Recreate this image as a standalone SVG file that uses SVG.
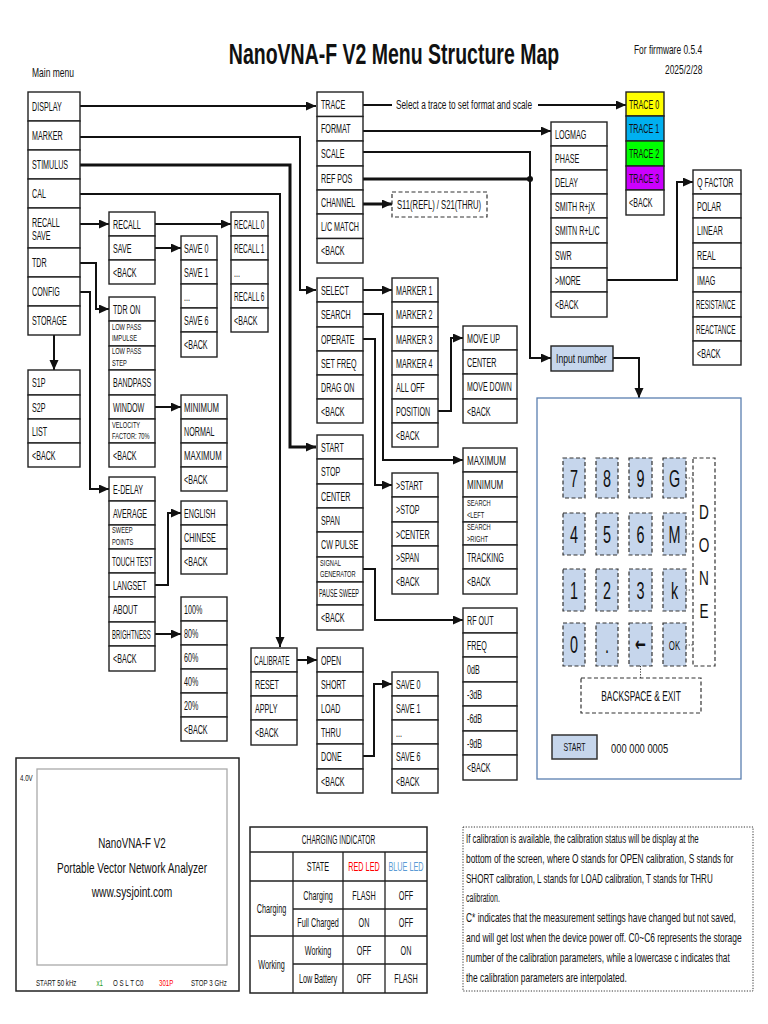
<svg xmlns="http://www.w3.org/2000/svg" width="768" height="1024" viewBox="0 0 768 1024">
<style>
.bg{fill:#fff}
.b{fill:#fff;stroke:#222;stroke-width:1.4}
.t{font-family:"Liberation Sans",Arial,sans-serif;font-size:13px;fill:#111}
.sm{font-size:9.5px}
.ps{font-size:10.5px}
.c{fill:none;stroke:#111;stroke-width:2}
.ck{stroke-width:3}
.dash{fill:none;stroke:#333;stroke-width:1.2;stroke-dasharray:4 2.5}
.key{fill:#C6D6EC;stroke:#333;stroke-width:1.2;stroke-dasharray:4 2.5}
.dot{fill:none;stroke:#333;stroke-width:1;stroke-dasharray:1.2 1.5}
.ln{stroke:#222;stroke-width:1.3;fill:none}
</style>
<defs>
<marker id="ah" markerUnits="userSpaceOnUse" markerWidth="10" markerHeight="10" refX="10" refY="4.5" orient="auto"><path d="M0,0 L10,4.5 L0,9 Z" fill="#111"/></marker>
</defs>
<rect class="bg" x="0" y="0" width="768" height="1024"/>

<g id="title">
<text class="t" style="font-size:30px;font-weight:bold" transform="translate(394 64) scale(.65 1)" text-anchor="middle">NanoVNA-F V2 Menu Structure Map</text>
<text class="t" style="font-size:12px" transform="translate(634 54) scale(.7 1)">For firmware 0.5.4</text>
<text class="t" style="font-size:12px" transform="translate(665 74) scale(.7 1)">2025/2/28</text>
<text class="t" style="font-size:12.5px" transform="translate(32 77) scale(.68 1)">Main menu</text>
</g>

<g id="connectors" class="c">
<path d="M80 106 H316" marker-end="url(#ah)"/>
<path d="M80 137 H300 V290 H316" marker-end="url(#ah)"/>
<path class="ck" d="M80 165 H290 V447 H316" marker-end="url(#ah)"/>
<path d="M80 194 H280 V647" marker-end="url(#ah)"/>
<path d="M80 224 H109" marker-end="url(#ah)"/>
<path d="M155 224 H231" marker-end="url(#ah)"/>
<path d="M155 248 H181" marker-end="url(#ah)"/>
<path d="M80 263 H96 V309 H109" marker-end="url(#ah)"/>
<path d="M80 292 H90 V489 H109" marker-end="url(#ah)"/>
<path d="M54 335 V370" marker-end="url(#ah)"/>
<path d="M155 407 H181" marker-end="url(#ah)"/>
<path d="M155 585 H168 V513 H181" marker-end="url(#ah)"/>
<path d="M155 634 H181" marker-end="url(#ah)"/>
<path d="M363 105 H392"/>
<path d="M538 105 H626" marker-end="url(#ah)"/>
<path d="M363 131 H551" marker-end="url(#ah)"/>
<path d="M363 152 H530 V358 H551" marker-end="url(#ah)"/>
<path class="ck" d="M363 179 H530"/>
<circle cx="530" cy="179" r="3" fill="#111" stroke="none"/>
<path class="ck" d="M363 204 H392" marker-end="url(#ah)"/>
<path d="M607 280 H677 V182 H693" marker-end="url(#ah)"/>
<path d="M613 358 H639 V398" marker-end="url(#ah)"/>
<path d="M363 290 H392" marker-end="url(#ah)"/>
<path d="M363 314 H383 V460 H463" marker-end="url(#ah)"/>
<path d="M363 339 H375 V485 H392" marker-end="url(#ah)"/>
<path d="M438 411 H451 V338 H463" marker-end="url(#ah)"/>
<path d="M363 569 H375 V620 H463" marker-end="url(#ah)"/>
<path d="M297 660 H317" marker-end="url(#ah)"/>
<path d="M363 756 H374 V684 H392" marker-end="url(#ah)"/>
</g>

<g id="main-menu">
<rect class="b" x="28" y="92" width="52" height="29"/>
<rect class="b" x="28" y="121" width="52" height="29"/>
<rect class="b" x="28" y="150" width="52" height="29"/>
<rect class="b" x="28" y="179" width="52" height="29"/>
<rect class="b" x="28" y="208" width="52" height="40"/>
<rect class="b" x="28" y="248" width="52" height="29"/>
<rect class="b" x="28" y="277" width="52" height="29"/>
<rect class="b" x="28" y="306" width="52" height="29"/>
<text class="t" transform="translate(32 111) scale(.55 1)">DISPLAY</text>
<text class="t" transform="translate(32 140) scale(.55 1)">MARKER</text>
<text class="t" transform="translate(32 169) scale(.55 1)">STIMULUS</text>
<text class="t" transform="translate(32 198) scale(.55 1)">CAL</text>
<text class="t" transform="translate(32 226.5) scale(.55 1)">RECALL</text>
<text class="t" transform="translate(32 239.5) scale(.55 1)">SAVE</text>
<text class="t" transform="translate(32 267) scale(.55 1)">TDR</text>
<text class="t" transform="translate(32 296) scale(.55 1)">CONFIG</text>
<text class="t" transform="translate(32 325) scale(.55 1)">STORAGE</text>
</g>

<g id="recall-save">
<rect class="b" x="109" y="212" width="46" height="24"/>
<rect class="b" x="109" y="236" width="46" height="24"/>
<rect class="b" x="109" y="260" width="46" height="24"/>
<text class="t" transform="translate(113 228.5) scale(.55 1)">RECALL</text>
<text class="t" transform="translate(113 252.5) scale(.55 1)">SAVE</text>
<text class="t" transform="translate(113 276.5) scale(.55 1)">&lt;BACK</text>
</g>

<g id="recall-list">
<rect class="b" x="231" y="212" width="37" height="24"/>
<rect class="b" x="231" y="236" width="37" height="24"/>
<rect class="b" x="231" y="260" width="37" height="24"/>
<rect class="b" x="231" y="284" width="37" height="24"/>
<rect class="b" x="231" y="308" width="37" height="24"/>
<text class="t" transform="translate(234 228.5) scale(.5 1)">RECALL 0</text>
<text class="t" transform="translate(234 252.5) scale(.5 1)">RECALL 1</text>
<text class="t" transform="translate(234 276.5) scale(.55 1)">...</text>
<text class="t" transform="translate(234 300.5) scale(.5 1)">RECALL 6</text>
<text class="t" transform="translate(234 324.5) scale(.55 1)">&lt;BACK</text>
</g>

<g id="save-list">
<rect class="b" x="181" y="236" width="36" height="24"/>
<rect class="b" x="181" y="260" width="36" height="24"/>
<rect class="b" x="181" y="284" width="36" height="24"/>
<rect class="b" x="181" y="308" width="36" height="24"/>
<rect class="b" x="181" y="332" width="36" height="25"/>
<text class="t" transform="translate(184 252.5) scale(.55 1)">SAVE 0</text>
<text class="t" transform="translate(184 276.5) scale(.55 1)">SAVE 1</text>
<text class="t" transform="translate(184 300.5) scale(.55 1)">...</text>
<text class="t" transform="translate(184 324.5) scale(.55 1)">SAVE 6</text>
<text class="t" transform="translate(184 349) scale(.55 1)">&lt;BACK</text>
</g>

<g id="storage">
<rect class="b" x="28" y="370" width="52" height="25"/>
<rect class="b" x="28" y="395" width="52" height="24"/>
<rect class="b" x="28" y="419" width="52" height="24"/>
<rect class="b" x="28" y="443" width="52" height="24"/>
<text class="t" transform="translate(32 387) scale(.55 1)">S1P</text>
<text class="t" transform="translate(32 411.5) scale(.55 1)">S2P</text>
<text class="t" transform="translate(32 435.5) scale(.55 1)">LIST</text>
<text class="t" transform="translate(32 459.5) scale(.55 1)">&lt;BACK</text>
</g>

<g id="tdr">
<rect class="b" x="109" y="297" width="46" height="24"/>
<rect class="b" x="109" y="321" width="46" height="25"/>
<rect class="b" x="109" y="346" width="46" height="24"/>
<rect class="b" x="109" y="370" width="46" height="25"/>
<rect class="b" x="109" y="395" width="46" height="24"/>
<rect class="b" x="109" y="419" width="46" height="24"/>
<rect class="b" x="109" y="443" width="46" height="24"/>
<text class="t" transform="translate(113 313.5) scale(.55 1)">TDR ON</text>
<text class="t sm" transform="translate(112 329.5) scale(.6 1)">LOW PASS</text>
<text class="t sm" transform="translate(112 341) scale(.6 1)">IMPULSE</text>
<text class="t sm" transform="translate(112 354) scale(.6 1)">LOW PASS</text>
<text class="t sm" transform="translate(112 365.5) scale(.6 1)">STEP</text>
<text class="t" transform="translate(113 387) scale(.55 1)">BANDPASS</text>
<text class="t" transform="translate(113 411.5) scale(.55 1)">WINDOW</text>
<text class="t sm" transform="translate(112 427.5) scale(.6 1)">VELOCITY</text>
<text class="t sm" transform="translate(112 439) scale(.6 1)">FACTOR: 70%</text>
<text class="t" transform="translate(113 459.5) scale(.55 1)">&lt;BACK</text>
</g>

<g id="window">
<rect class="b" x="181" y="395" width="46" height="24"/>
<rect class="b" x="181" y="419" width="46" height="24"/>
<rect class="b" x="181" y="443" width="46" height="24"/>
<rect class="b" x="181" y="467" width="46" height="24"/>
<text class="t" transform="translate(184 411.5) scale(.6 1)">MINIMUM</text>
<text class="t" transform="translate(184 435.5) scale(.55 1)">NORMAL</text>
<text class="t" transform="translate(184 459.5) scale(.6 1)">MAXIMUM</text>
<text class="t" transform="translate(184 483.5) scale(.55 1)">&lt;BACK</text>
</g>

<g id="config">
<rect class="b" x="109" y="477" width="46" height="24"/>
<rect class="b" x="109" y="501" width="46" height="24"/>
<rect class="b" x="109" y="525" width="46" height="24"/>
<rect class="b" x="109" y="549" width="46" height="24"/>
<rect class="b" x="109" y="573" width="46" height="24"/>
<rect class="b" x="109" y="597" width="46" height="25"/>
<rect class="b" x="109" y="622" width="46" height="24"/>
<rect class="b" x="109" y="646" width="46" height="25"/>
<text class="t" transform="translate(113 493.5) scale(.55 1)">E-DELAY</text>
<text class="t" transform="translate(113 517.5) scale(.55 1)">AVERAGE</text>
<text class="t sm" transform="translate(112 533) scale(.6 1)">SWEEP</text>
<text class="t sm" transform="translate(112 544.5) scale(.6 1)">POINTS</text>
<text class="t" transform="translate(112 565.5) scale(.49 1)">TOUCH TEST</text>
<text class="t" transform="translate(113 589.5) scale(.55 1)">LANGSET</text>
<text class="t" transform="translate(113 614) scale(.55 1)">ABOUT</text>
<text class="t" transform="translate(112 638.5) scale(.46 1)">BRIGHTNESS</text>
<text class="t" transform="translate(113 663) scale(.55 1)">&lt;BACK</text>
</g>

<g id="langset">
<rect class="b" x="181" y="501" width="46" height="24"/>
<rect class="b" x="181" y="525" width="46" height="24"/>
<rect class="b" x="181" y="549" width="46" height="25"/>
<text class="t" transform="translate(184 517.5) scale(.55 1)">ENGLISH</text>
<text class="t" transform="translate(184 541.5) scale(.55 1)">CHINESE</text>
<text class="t" transform="translate(184 566) scale(.55 1)">&lt;BACK</text>
</g>

<g id="brightness">
<rect class="b" x="181" y="597" width="46" height="24"/>
<rect class="b" x="181" y="621" width="46" height="24"/>
<rect class="b" x="181" y="645" width="46" height="24"/>
<rect class="b" x="181" y="669" width="46" height="24"/>
<rect class="b" x="181" y="693" width="46" height="24"/>
<rect class="b" x="181" y="717" width="46" height="24"/>
<text class="t" transform="translate(184 613.5) scale(.55 1)">100%</text>
<text class="t" transform="translate(184 637.5) scale(.55 1)">80%</text>
<text class="t" transform="translate(184 661.5) scale(.55 1)">60%</text>
<text class="t" transform="translate(184 685.5) scale(.55 1)">40%</text>
<text class="t" transform="translate(184 709.5) scale(.55 1)">20%</text>
<text class="t" transform="translate(184 733.5) scale(.55 1)">&lt;BACK</text>
</g>

<g id="display">
<rect class="b" x="317" y="92" width="46" height="24.5"/>
<rect class="b" x="317" y="116.5" width="46" height="24.5"/>
<rect class="b" x="317" y="141" width="46" height="25"/>
<rect class="b" x="317" y="166" width="46" height="24"/>
<rect class="b" x="317" y="190" width="46" height="24"/>
<rect class="b" x="317" y="214" width="46" height="24.5"/>
<rect class="b" x="317" y="238.5" width="46" height="24.5"/>
<text class="t" transform="translate(321 108.5) scale(.55 1)">TRACE</text>
<text class="t" transform="translate(321 133) scale(.55 1)">FORMAT</text>
<text class="t" transform="translate(321 158) scale(.55 1)">SCALE</text>
<text class="t" transform="translate(321 182.5) scale(.55 1)">REF POS</text>
<text class="t" transform="translate(321 206.5) scale(.55 1)">CHANNEL</text>
<text class="t" transform="translate(321 230.5) scale(.55 1)">L/C MATCH</text>
<text class="t" transform="translate(321 255) scale(.55 1)">&lt;BACK</text>
<text class="t" style="font-size:12.5px" transform="translate(396 109) scale(.66 1)">Select a trace to set format and scale</text>
</g>

<g id="traces">
<rect class="b" x="626" y="92" width="38" height="24" style="fill:#FFFF00"/>
<rect class="b" x="626" y="116" width="38" height="25" style="fill:#00B0F0"/>
<rect class="b" x="626" y="141" width="38" height="25" style="fill:#00FF00"/>
<rect class="b" x="626" y="166" width="38" height="24" style="fill:#CC00FF"/>
<rect class="b" x="626" y="190" width="38" height="25"/>
<text class="t" transform="translate(629 108.5) scale(.55 1)">TRACE 0</text>
<text class="t" transform="translate(629 133) scale(.55 1)">TRACE 1</text>
<text class="t" transform="translate(629 158) scale(.55 1)">TRACE 2</text>
<text class="t" transform="translate(629 182.5) scale(.55 1)">TRACE 3</text>
<text class="t" transform="translate(629 207) scale(.55 1)">&lt;BACK</text>
</g>

<g id="format">
<rect class="b" x="551" y="122" width="56" height="24"/>
<rect class="b" x="551" y="146" width="56" height="24"/>
<rect class="b" x="551" y="170" width="56" height="24"/>
<rect class="b" x="551" y="194" width="56" height="24"/>
<rect class="b" x="551" y="218" width="56" height="25"/>
<rect class="b" x="551" y="243" width="56" height="25"/>
<rect class="b" x="551" y="268" width="56" height="24"/>
<rect class="b" x="551" y="292" width="56" height="25"/>
<text class="t" transform="translate(555 138.5) scale(.55 1)">LOGMAG</text>
<text class="t" transform="translate(555 162.5) scale(.55 1)">PHASE</text>
<text class="t" transform="translate(555 186.5) scale(.55 1)">DELAY</text>
<text class="t" transform="translate(555 210.5) scale(.55 1)">SMITH R+jX</text>
<text class="t" transform="translate(555 235) scale(.55 1)">SMITN R+L/C</text>
<text class="t" transform="translate(555 260) scale(.55 1)">SWR</text>
<text class="t" transform="translate(555 284.5) scale(.55 1)">&gt;MORE</text>
<text class="t" transform="translate(555 309) scale(.55 1)">&lt;BACK</text>
</g>

<g id="more">
<rect class="b" x="693" y="170" width="48" height="24"/>
<rect class="b" x="693" y="194" width="48" height="24"/>
<rect class="b" x="693" y="218" width="48" height="25"/>
<rect class="b" x="693" y="243" width="48" height="25"/>
<rect class="b" x="693" y="268" width="48" height="24"/>
<rect class="b" x="693" y="292" width="48" height="25"/>
<rect class="b" x="693" y="317" width="48" height="24"/>
<rect class="b" x="693" y="341" width="48" height="24"/>
<text class="t" transform="translate(697 186.5) scale(.55 1)">Q FACTOR</text>
<text class="t" transform="translate(697 210.5) scale(.55 1)">POLAR</text>
<text class="t" transform="translate(697 235) scale(.55 1)">LINEAR</text>
<text class="t" transform="translate(697 260) scale(.55 1)">REAL</text>
<text class="t" transform="translate(697 284.5) scale(.55 1)">IMAG</text>
<text class="t" transform="translate(696 309) scale(.48 1)">RESISTANCE</text>
<text class="t" transform="translate(696 333.5) scale(.5 1)">REACTANCE</text>
<text class="t" transform="translate(697 357.5) scale(.55 1)">&lt;BACK</text>
</g>

<g id="input-number">
<rect x="551" y="346" width="62" height="25" fill="#C6D6EC" stroke="#222" stroke-width="1.4"/>
<text class="t" style="font-size:12.5px" transform="translate(556 363) scale(.69 1)">Input number</text>
</g>

<g id="channel-opt">
<rect class="dash" x="392" y="192" width="95" height="25"/>
<text class="t" transform="translate(397 209) scale(.59 1)">S11(REFL) / S21(THRU)</text>
</g>

<g id="marker">
<rect class="b" x="317" y="278" width="46" height="24"/>
<rect class="b" x="317" y="302" width="46" height="25"/>
<rect class="b" x="317" y="327" width="46" height="24"/>
<rect class="b" x="317" y="351" width="46" height="24"/>
<rect class="b" x="317" y="375" width="46" height="24"/>
<rect class="b" x="317" y="399" width="46" height="24"/>
<text class="t" transform="translate(321 294.5) scale(.55 1)">SELECT</text>
<text class="t" transform="translate(321 319) scale(.55 1)">SEARCH</text>
<text class="t" transform="translate(321 343.5) scale(.55 1)">OPERATE</text>
<text class="t" transform="translate(321 367.5) scale(.55 1)">SET FREQ</text>
<text class="t" transform="translate(321 391.5) scale(.55 1)">DRAG ON</text>
<text class="t" transform="translate(321 415.5) scale(.55 1)">&lt;BACK</text>
</g>

<g id="marker-select">
<rect class="b" x="392" y="278" width="46" height="24"/>
<rect class="b" x="392" y="302" width="46" height="25"/>
<rect class="b" x="392" y="327" width="46" height="24"/>
<rect class="b" x="392" y="351" width="46" height="24"/>
<rect class="b" x="392" y="375" width="46" height="24"/>
<rect class="b" x="392" y="399" width="46" height="24"/>
<rect class="b" x="392" y="423" width="46" height="24"/>
<text class="t" transform="translate(396 294.5) scale(.55 1)">MARKER 1</text>
<text class="t" transform="translate(396 319) scale(.55 1)">MARKER 2</text>
<text class="t" transform="translate(396 343.5) scale(.55 1)">MARKER 3</text>
<text class="t" transform="translate(396 367.5) scale(.55 1)">MARKER 4</text>
<text class="t" transform="translate(396 391.5) scale(.55 1)">ALL OFF</text>
<text class="t" transform="translate(396 415.5) scale(.55 1)">POSITION</text>
<text class="t" transform="translate(396 439.5) scale(.55 1)">&lt;BACK</text>
</g>

<g id="position">
<rect class="b" x="463" y="326" width="54" height="24"/>
<rect class="b" x="463" y="350" width="54" height="24"/>
<rect class="b" x="463" y="374" width="54" height="25"/>
<rect class="b" x="463" y="399" width="54" height="24"/>
<text class="t" transform="translate(467 342.5) scale(.55 1)">MOVE UP</text>
<text class="t" transform="translate(467 366.5) scale(.55 1)">CENTER</text>
<text class="t" transform="translate(467 391) scale(.54 1)">MOVE DOWN</text>
<text class="t" transform="translate(467 415.5) scale(.55 1)">&lt;BACK</text>
</g>

<g id="search">
<rect class="b" x="463" y="448" width="54" height="24"/>
<rect class="b" x="463" y="472" width="54" height="25"/>
<rect class="b" x="463" y="497" width="54" height="25"/>
<rect class="b" x="463" y="522" width="54" height="23"/>
<rect class="b" x="463" y="545" width="54" height="24"/>
<rect class="b" x="463" y="569" width="54" height="25"/>
<text class="t" transform="translate(467 464.5) scale(.62 1)">MAXIMUM</text>
<text class="t" transform="translate(467 489) scale(.62 1)">MINIMUM</text>
<text class="t sm" transform="translate(467 506) scale(.6 1)">SEARCH</text>
<text class="t sm" transform="translate(467 517.5) scale(.6 1)">&lt;LEFT</text>
<text class="t sm" transform="translate(467 530) scale(.6 1)">SEARCH</text>
<text class="t sm" transform="translate(467 541.5) scale(.6 1)">&gt;RIGHT</text>
<text class="t" transform="translate(467 561.5) scale(.55 1)">TRACKING</text>
<text class="t" transform="translate(467 586) scale(.55 1)">&lt;BACK</text>
</g>

<g id="operate">
<rect class="b" x="392" y="473" width="46" height="24"/>
<rect class="b" x="392" y="497" width="46" height="25"/>
<rect class="b" x="392" y="522" width="46" height="24"/>
<rect class="b" x="392" y="546" width="46" height="23"/>
<rect class="b" x="392" y="569" width="46" height="25"/>
<text class="t" transform="translate(396 489.5) scale(.55 1)">&gt;START</text>
<text class="t" transform="translate(396 514) scale(.55 1)">&gt;STOP</text>
<text class="t" transform="translate(396 538.5) scale(.55 1)">&gt;CENTER</text>
<text class="t" transform="translate(396 562) scale(.55 1)">&gt;SPAN</text>
<text class="t" transform="translate(396 586) scale(.55 1)">&lt;BACK</text>
</g>

<g id="stimulus">
<rect class="b" x="317" y="435" width="46" height="24"/>
<rect class="b" x="317" y="459" width="46" height="25"/>
<rect class="b" x="317" y="484" width="46" height="24"/>
<rect class="b" x="317" y="508" width="46" height="24"/>
<rect class="b" x="317" y="532" width="46" height="25"/>
<rect class="b" x="317" y="557" width="46" height="25"/>
<rect class="b" x="317" y="582" width="46" height="23"/>
<rect class="b" x="317" y="605" width="46" height="25"/>
<text class="t" transform="translate(321 451.5) scale(.55 1)">START</text>
<text class="t" transform="translate(321 476) scale(.55 1)">STOP</text>
<text class="t" transform="translate(321 500.5) scale(.55 1)">CENTER</text>
<text class="t" transform="translate(321 524.5) scale(.55 1)">SPAN</text>
<text class="t" transform="translate(321 549) scale(.55 1)">CW PULSE</text>
<text class="t sm" transform="translate(320 565.5) scale(.6 1)">SIGNAL</text>
<text class="t sm" transform="translate(320 577) scale(.6 1)">GENERATOR</text>
<text class="t ps" transform="translate(319 597) scale(.53 1)">PAUSE SWEEP</text>
<text class="t" transform="translate(321 622) scale(.55 1)">&lt;BACK</text>
</g>

<g id="signal-generator">
<rect class="b" x="463" y="608" width="54" height="25"/>
<rect class="b" x="463" y="633" width="54" height="24"/>
<rect class="b" x="463" y="657" width="54" height="25"/>
<rect class="b" x="463" y="682" width="54" height="24"/>
<rect class="b" x="463" y="706" width="54" height="25"/>
<rect class="b" x="463" y="731" width="54" height="24"/>
<rect class="b" x="463" y="755" width="54" height="25"/>
<text class="t" transform="translate(467 625) scale(.55 1)">RF OUT</text>
<text class="t" transform="translate(467 649.5) scale(.55 1)">FREQ</text>
<text class="t" transform="translate(467 674) scale(.55 1)">0dB</text>
<text class="t" transform="translate(467 698.5) scale(.55 1)">-3dB</text>
<text class="t" transform="translate(467 723) scale(.55 1)">-6dB</text>
<text class="t" transform="translate(467 747.5) scale(.55 1)">-9dB</text>
<text class="t" transform="translate(467 772) scale(.55 1)">&lt;BACK</text>
</g>

<g id="cal">
<rect class="b" x="251" y="648" width="46" height="24"/>
<rect class="b" x="251" y="672" width="46" height="24"/>
<rect class="b" x="251" y="696" width="46" height="24"/>
<rect class="b" x="251" y="720" width="46" height="25"/>
<text class="t" transform="translate(254 664.5) scale(.5 1)">CALIBRATE</text>
<text class="t" transform="translate(255 688.5) scale(.55 1)">RESET</text>
<text class="t" transform="translate(255 712.5) scale(.55 1)">APPLY</text>
<text class="t" transform="translate(255 737) scale(.55 1)">&lt;BACK</text>
</g>

<g id="calibrate">
<rect class="b" x="317" y="648" width="46" height="24"/>
<rect class="b" x="317" y="672" width="46" height="24"/>
<rect class="b" x="317" y="696" width="46" height="24"/>
<rect class="b" x="317" y="720" width="46" height="24"/>
<rect class="b" x="317" y="744" width="46" height="25"/>
<rect class="b" x="317" y="769" width="46" height="24"/>
<text class="t" transform="translate(321 664.5) scale(.55 1)">OPEN</text>
<text class="t" transform="translate(321 688.5) scale(.55 1)">SHORT</text>
<text class="t" transform="translate(321 712.5) scale(.55 1)">LOAD</text>
<text class="t" transform="translate(321 736.5) scale(.55 1)">THRU</text>
<text class="t" transform="translate(321 761) scale(.55 1)">DONE</text>
<text class="t" transform="translate(321 785.5) scale(.55 1)">&lt;BACK</text>
</g>

<g id="cal-save">
<rect class="b" x="392" y="672" width="46" height="24"/>
<rect class="b" x="392" y="696" width="46" height="24"/>
<rect class="b" x="392" y="720" width="46" height="24"/>
<rect class="b" x="392" y="744" width="46" height="25"/>
<rect class="b" x="392" y="769" width="46" height="24"/>
<text class="t" transform="translate(396 688.5) scale(.55 1)">SAVE 0</text>
<text class="t" transform="translate(396 712.5) scale(.55 1)">SAVE 1</text>
<text class="t" transform="translate(396 736.5) scale(.55 1)">...</text>
<text class="t" transform="translate(396 761) scale(.55 1)">SAVE 6</text>
<text class="t" transform="translate(396 785.5) scale(.55 1)">&lt;BACK</text>
</g>

<g id="keypad">
<rect x="537" y="398" width="204" height="381" fill="none" stroke="#5A7FB0" stroke-width="1.3"/>
<rect class="key" x="563" y="458" width="22" height="40"/>
<rect class="key" x="596" y="458" width="22" height="40"/>
<rect class="key" x="629" y="458" width="23" height="40"/>
<rect class="key" x="663" y="458" width="23" height="40"/>
<rect class="key" x="563" y="513" width="22" height="42"/>
<rect class="key" x="596" y="513" width="22" height="42"/>
<rect class="key" x="629" y="513" width="23" height="42"/>
<rect class="key" x="663" y="513" width="23" height="42"/>
<rect class="key" x="563" y="569" width="22" height="42"/>
<rect class="key" x="596" y="569" width="22" height="42"/>
<rect class="key" x="629" y="569" width="23" height="42"/>
<rect class="key" x="663" y="569" width="23" height="42"/>
<rect class="key" x="563" y="623" width="22" height="43"/>
<rect class="key" x="596" y="623" width="22" height="43"/>
<rect class="key" x="629" y="623" width="23" height="43"/>
<rect class="key" x="663" y="623" width="23" height="43"/>
<rect class="dash" x="693" y="458" width="22" height="208"/>
<path class="dot" d="M686 478 H693 M686 534 H693 M686 590 H693 M686 645 H693 M640.5 666 V678"/>
<rect class="dash" x="581" y="678" width="120" height="35"/>
<g class="t" style="font-size:24px">
<text transform="translate(574 487) scale(.6 1)" text-anchor="middle">7</text>
<text transform="translate(607 487) scale(.6 1)" text-anchor="middle">8</text>
<text transform="translate(640.5 487) scale(.6 1)" text-anchor="middle">9</text>
<text transform="translate(674.5 487) scale(.6 1)" text-anchor="middle">G</text>
<text transform="translate(574 542.5) scale(.6 1)" text-anchor="middle">4</text>
<text transform="translate(607 542.5) scale(.6 1)" text-anchor="middle">5</text>
<text transform="translate(640.5 542.5) scale(.6 1)" text-anchor="middle">6</text>
<text transform="translate(674.5 542.5) scale(.6 1)" text-anchor="middle">M</text>
<text transform="translate(574 598.5) scale(.6 1)" text-anchor="middle">1</text>
<text transform="translate(607 598.5) scale(.6 1)" text-anchor="middle">2</text>
<text transform="translate(640.5 598.5) scale(.6 1)" text-anchor="middle">3</text>
<text transform="translate(674.5 598.5) scale(.6 1)" text-anchor="middle">k</text>
<text transform="translate(574 653) scale(.6 1)" text-anchor="middle">0</text>
<text transform="translate(607 653) scale(.6 1)" text-anchor="middle">.</text>
</g>
<text class="t" style="font-family:'DejaVu Sans',sans-serif;font-size:20px;font-weight:bold" transform="translate(640.5 651) scale(.65 1)" text-anchor="middle">←</text>
<text class="t" transform="translate(674.5 649.5) scale(.6 1)" text-anchor="middle">OK</text>
<g class="t" style="font-size:21px">
<text transform="translate(704 518.5) scale(.65 1)" text-anchor="middle">D</text>
<text transform="translate(704 551.5) scale(.65 1)" text-anchor="middle">O</text>
<text transform="translate(704 584.5) scale(.65 1)" text-anchor="middle">N</text>
<text transform="translate(704 617.5) scale(.65 1)" text-anchor="middle">E</text>
</g>
<text class="t" style="font-size:14px" transform="translate(641 701) scale(.6 1)" text-anchor="middle">BACKSPACE &amp; EXIT</text>
<rect x="552" y="735" width="45" height="24" fill="#C6D6EC" stroke="#333" stroke-width="1.5"/>
<text class="t" style="font-size:11px" transform="translate(574.5 751) scale(.63 1)" text-anchor="middle">START</text>
<text class="t" transform="translate(611 752.5) scale(.72 1)">000 000 0005</text>
</g>

<g id="screen">
<rect x="16" y="758" width="223" height="233" fill="none" stroke="#222" stroke-width="1.5"/>
<rect x="37" y="769" width="190" height="196" fill="none" stroke="#aaa" stroke-width="1.3"/>
<text class="t sm" transform="translate(20 781) scale(.65 1)">4.0V</text>
<text class="t" style="font-size:14px" transform="translate(132 848) scale(.7 1)" text-anchor="middle">NanoVNA-F V2</text>
<text class="t" style="font-size:14px" transform="translate(132 873) scale(.72 1)" text-anchor="middle">Portable Vector Network Analyzer</text>
<text class="t" style="font-size:14px" transform="translate(132 897) scale(.73 1)" text-anchor="middle">www.sysjoint.com</text>
<text class="t sm" transform="translate(36 986) scale(.65 1)">START  50 kHz</text>
<text class="t sm" style="fill:#1E9E1E" transform="translate(96.5 986) scale(.65 1)">x1</text>
<text class="t sm" transform="translate(113 986) scale(.65 1)">O S L T C0</text>
<text class="t sm" style="fill:#FF0000" transform="translate(159 986) scale(.65 1)">301P</text>
<text class="t sm" transform="translate(191 986) scale(.65 1)">STOP  3 GHz</text>
</g>

<g id="charging-table">
<rect x="250" y="827" width="177" height="166" fill="#fff" stroke="#222" stroke-width="1.5"/>
<path class="ln" d="M250 852 H427 M250 881 H427 M293 909 H427 M250 936 H427 M293 964 H427 M293 852 V993 M343 852 V993 M385 852 V993"/>
<g class="t" style="font-size:12.5px">
<text transform="translate(338.5 844) scale(.53 1)" text-anchor="middle">CHARGING INDICATOR</text>
<text transform="translate(318 871) scale(.58 1)" text-anchor="middle">STATE</text>
<text style="fill:#FF0000" transform="translate(364 871) scale(.58 1)" text-anchor="middle">RED LED</text>
<text style="fill:#5B9BD5" transform="translate(406 871) scale(.58 1)" text-anchor="middle">BLUE LED</text>
<text transform="translate(271.5 913) scale(.58 1)" text-anchor="middle">Charging</text>
<text transform="translate(318 899.5) scale(.58 1)" text-anchor="middle">Charging</text>
<text transform="translate(364 899.5) scale(.58 1)" text-anchor="middle">FLASH</text>
<text transform="translate(406 899.5) scale(.58 1)" text-anchor="middle">OFF</text>
<text transform="translate(318 927) scale(.58 1)" text-anchor="middle">Full Charged</text>
<text transform="translate(364 927) scale(.58 1)" text-anchor="middle">ON</text>
<text transform="translate(406 927) scale(.58 1)" text-anchor="middle">OFF</text>
<text transform="translate(271.5 968.5) scale(.58 1)" text-anchor="middle">Working</text>
<text transform="translate(318 954.5) scale(.58 1)" text-anchor="middle">Working</text>
<text transform="translate(364 954.5) scale(.58 1)" text-anchor="middle">OFF</text>
<text transform="translate(406 954.5) scale(.58 1)" text-anchor="middle">ON</text>
<text transform="translate(318 983) scale(.58 1)" text-anchor="middle">Low Battery</text>
<text transform="translate(364 983) scale(.58 1)" text-anchor="middle">OFF</text>
<text transform="translate(406 983) scale(.58 1)" text-anchor="middle">FLASH</text>
</g>
</g>

<g id="calibration-note">
<rect class="dot" x="463" y="827" width="290" height="164"/>
<g class="t" style="font-size:12.5px">
<text transform="translate(466 843) scale(.63 1)">If calibration is available, the calibration status will be display at the</text>
<text transform="translate(466 862.8) scale(.67 1)">bottom of the screen, where O stands for OPEN calibration, S stands for</text>
<text transform="translate(466 882.6) scale(.643 1)">SHORT calibration, L stands for LOAD calibration, T stands for THRU</text>
<text transform="translate(466 902.4) scale(.56 1)">calibration.</text>
<text transform="translate(466 922.2) scale(.672 1)">C* indicates that the measurement settings have changed but not saved,</text>
<text transform="translate(466 942) scale(.675 1)">and will get lost when the device power off. C0~C6 represents the storage</text>
<text transform="translate(466 961.8) scale(.665 1)">number of the calibration parameters, while a lowercase c indicates that</text>
<text transform="translate(466 981.6) scale(.675 1)">the calibration parameters are interpolated.</text>
</g>
</g>
</svg>
